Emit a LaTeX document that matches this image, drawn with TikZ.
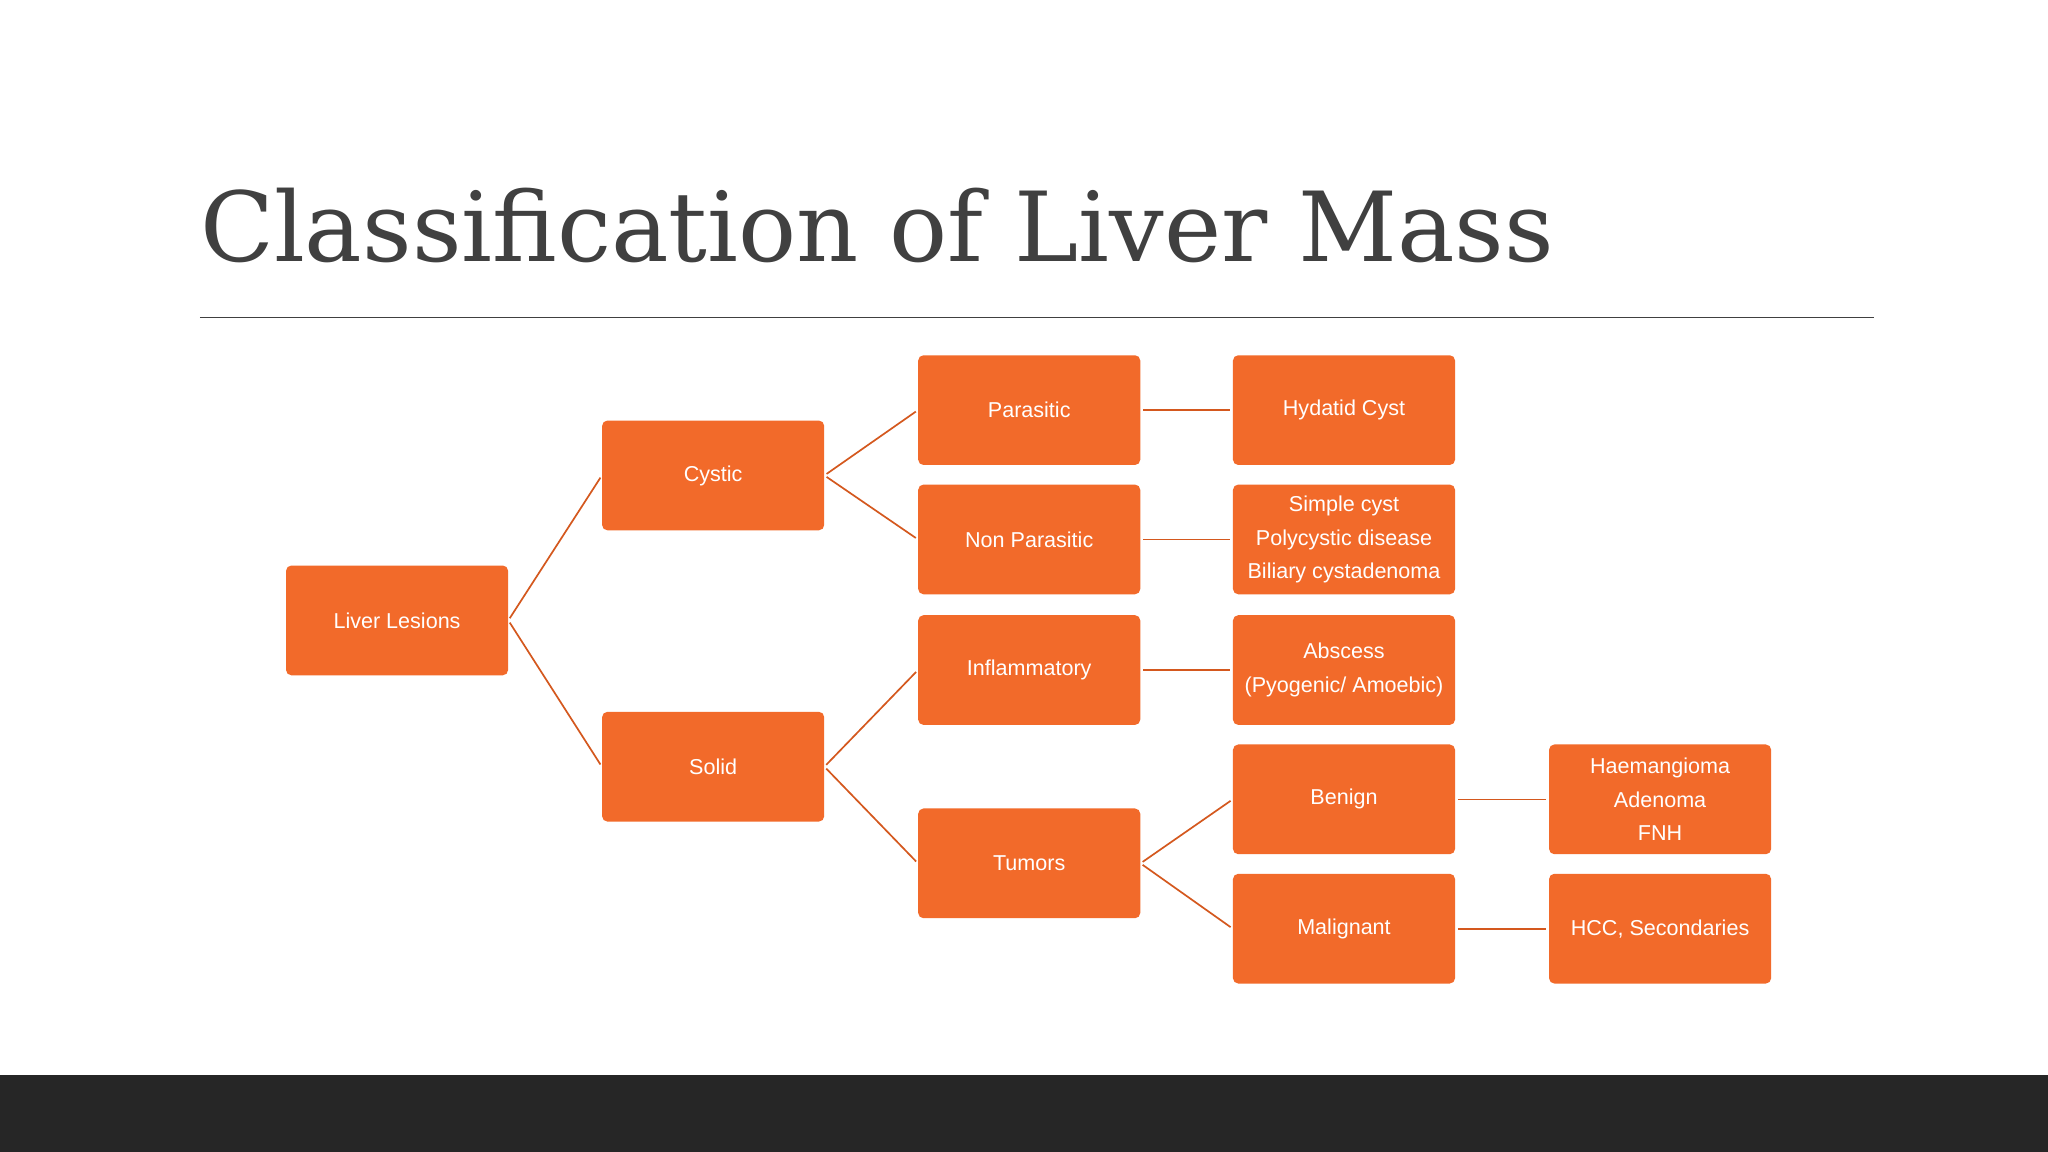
\documentclass[tikz,border=0pt]{standalone}
\usepackage{fontspec}
\setmainfont{Liberation Sans}
\newfontfamily\titlefont{DejaVu Serif}
\definecolor{boxor}{HTML}{F26A2A}
\definecolor{lineor}{HTML}{D4581E}
\definecolor{band}{HTML}{262626}
\definecolor{titlegray}{HTML}{404040}
\begin{document}
\begin{tikzpicture}[x=1pt,y=-1pt,
  bx/.style={draw=none,fill=boxor,rounded corners=4pt,minimum width=170pt,minimum height=84pt,text=white,align=center,font=\fontsize{16.5}{25.5}\selectfont,inner sep=0pt},
  cn/.style={draw=lineor,line width=1.3pt,shorten <=2pt,shorten >=2pt}]
\useasboundingbox (0,0) rectangle (1568,882);
\fill[white] (0,0) rectangle (1568,882);
\fill[band] (0,823) rectangle (1568,882);
\node[anchor=base west,text=titlegray,font=\titlefont\fontsize{74}{80}\selectfont,inner sep=0pt] (title) at (153,200) {Classification of Liver Mass};
\draw[titlegray,line width=1.2pt] (153,243) -- (1435,243);
\node[bx] (liver) at (304,475) {Liver Lesions};
\node[bx] (cystic) at (546,364) {Cystic};
\node[bx] (solid) at (546,587) {Solid};
\node[bx] (para) at (788,314) {Parasitic};
\node[bx] (nonpara) at (788,413) {Non Parasitic};
\node[bx] (infl) at (788,513) {Inflammatory};
\node[bx] (tum) at (788,661) {Tumors};
\node[bx] (hyd) at (1029,314) {Hydatid Cyst};
\node[bx] (simple) at (1029,413) {Simple cyst\\Polycystic disease\\Biliary cystadenoma};
\node[bx] (absc) at (1029,513) {Abscess\\(Pyogenic/ Amoebic)};
\node[bx] (ben) at (1029,612) {Benign};
\node[bx] (mal) at (1029,711) {Malignant};
\node[bx] (haem) at (1271,612) {Haemangioma\\Adenoma\\FNH};
\node[bx] (hcc) at (1271,711) {HCC, Secondaries};
\draw[cn] (liver.east) -- (cystic.west);
\draw[cn] (liver.east) -- (solid.west);
\draw[cn] (cystic.east) -- (para.west);
\draw[cn] (cystic.east) -- (nonpara.west);
\draw[cn] (solid.east) -- (infl.west);
\draw[cn] (solid.east) -- (tum.west);
\draw[cn] (tum.east) -- (ben.west);
\draw[cn] (tum.east) -- (mal.west);
\draw[cn] (para.east) -- (hyd.west);
\draw[cn] (nonpara.east) -- (simple.west);
\draw[cn] (infl.east) -- (absc.west);
\draw[cn] (ben.east) -- (haem.west);
\draw[cn] (mal.east) -- (hcc.west);
\end{tikzpicture}
\end{document}
